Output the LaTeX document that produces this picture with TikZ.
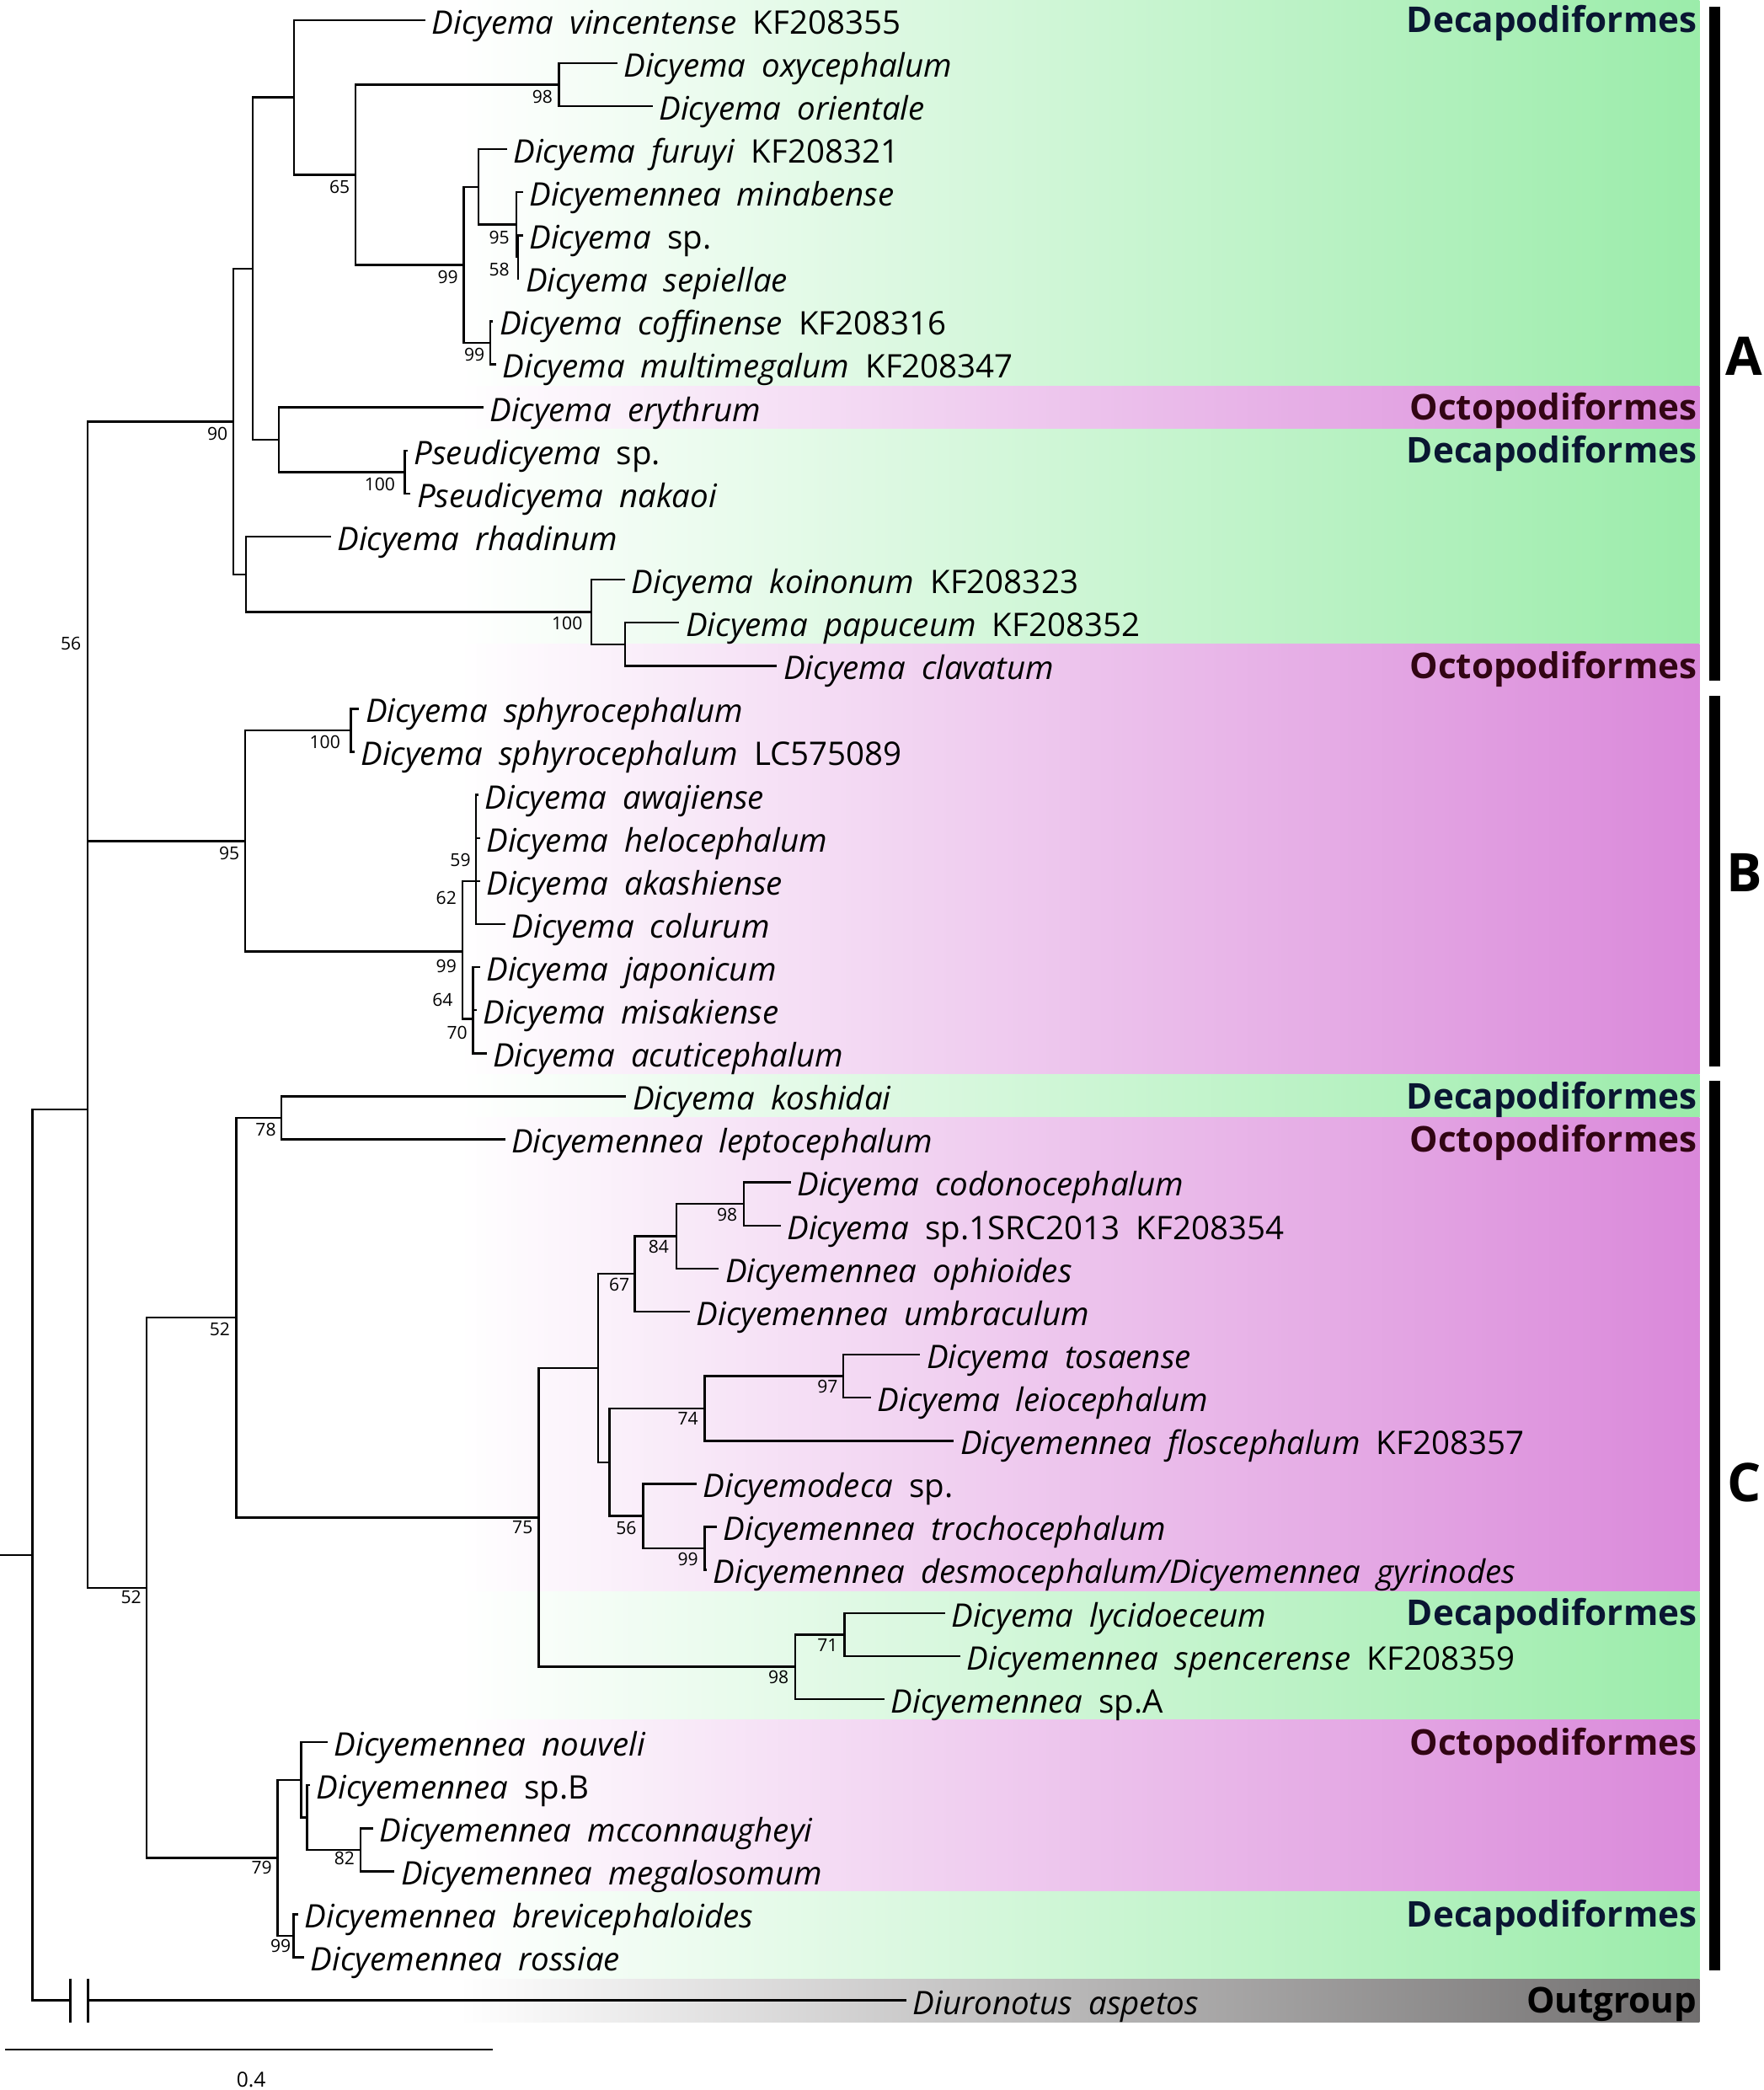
\documentclass[tikz,border=0pt]{standalone}
\usepackage{fontspec}
\setmainfont{Open Sans}
\newfontfamily\taxafont[WordSpace=1.9]{Open Sans}
\usepackage{tikz}
\usetikzlibrary{positioning}
\definecolor{decapod}{RGB}{155,236,170}
\definecolor{octopod}{RGB}{218,136,218}
\definecolor{outgr}{RGB}{112,110,110}
\definecolor{decapodtxt}{RGB}{10,22,50}
\definecolor{octopodtxt}{RGB}{50,5,20}
\tikzset{
  branch/.style={line width=0.7pt},
  taxon/.style={anchor=west,inner xsep=2pt,inner ysep=0pt,text height=9.3pt,text depth=0pt,
    font=\taxafont\fontsize{10.95}{12}\selectfont\itshape},
  support/.style={inner sep=0pt,font=\fontsize{6}{7}\selectfont},
  group/.style={anchor=east,inner sep=0pt,text height=8.6pt,text depth=0pt,
    font=\fontsize{12}{14}\selectfont\bfseries},
  cladebar/.style={line width=3.8pt},
  cladelab/.style={inner sep=0pt,font=\fontsize{18}{20}\selectfont\bfseries},
}

\begin{document}
\begin{tikzpicture}[x=0.158277mm,y=-0.158277mm]
			\useasboundingbox (0,0) rectangle (1323,1568);
			% host bands
			\foreach \ytop/\ybot/\col in {0/289.6/decapod,289.6/321.9/octopod,321.9/483.4/decapod,
				483.4/806.4/octopod,806.4/838.6/decapod,838.6/1194/octopod,1194/1290.1/decapod,
				1290.1/1419.3/octopod,1419.3/1484.7/decapod,1484.7/1517/outgr}
				\shade[left color=white,right color=\col] (345,\ytop) rectangle (1275,\ybot);
			% host labels
			\node[group,text=decapodtxt] (dec1) at (1273.5,15) {Decapodiformes};
			\node[group,text=octopodtxt] (oct1) at (1273.5,305.7) {Octopodiformes};
			\node[group,text=decapodtxt] (dec2) at (1273.5,338) {Decapodiformes};
			\node[group,text=octopodtxt] (oct2) at (1273.5,499.5) {Octopodiformes};
			\node[group,text=decapodtxt] (dec3) at (1273.5,822.5) {Decapodiformes};
			\node[group,text=octopodtxt] (oct3) at (1273.5,854.8) {Octopodiformes};
			\node[group,text=decapodtxt] (dec4) at (1273.5,1210.1) {Decapodiformes};
			\node[group,text=octopodtxt] (oct4) at (1273.5,1307) {Octopodiformes};
			\node[group,text=decapodtxt] (dec5) at (1273.5,1436.2) {Decapodiformes};
			\node[group,text=black] (outg) at (1273.5,1500.8) {Outgroup};
			% clade bars
			\draw[cladebar] (1286.5,5.1) -- (1286.5,510.4);
			\draw[cladebar] (1286.5,522.1) -- (1286.5,800.1);
			\draw[cladebar] (1286.5,810.9) -- (1286.5,1478.4);
			\node[cladelab] (cladeA) at (1308.5,267) {A};
			\node[cladelab] (cladeB) at (1308.5,655) {B};
			\node[cladelab] (cladeC) at (1308.5,1112) {C};

			% clade A taxa
			\node[taxon] (t1) at (319.1,15) {Dicyema vincentense \textup{KF208355}};
			\node[taxon] (t2) at (463.1,47.3) {Dicyema oxycephalum};
			\node[taxon] (t3) at (489.7,79.6) {Dicyema orientale};
			\node[taxon] (t4) at (380.3,111.9) {Dicyema furuyi \textup{KF208321}};
			\node[taxon] (t5) at (392.2,144.2) {Dicyemennea minabense};
			\node[taxon] (t6) at (392.2,176.5) {Dicyema \textup{sp.}};
			\node[taxon] (t7) at (389.5,208.8) {Dicyema sepiellae};
			\node[taxon] (t8) at (370,241.1) {Dicyema coffinense \textup{KF208316}};
			\node[taxon] (t9) at (372.3,273.4) {Dicyema multimegalum \textup{KF208347}};
			\node[taxon] (t10) at (362.5,305.7) {Dicyema erythrum};
			\node[taxon] (t11) at (305.8,338) {Pseudicyema \textup{sp.}};
			\node[taxon] (t12) at (308,370.3) {Pseudicyema nakaoi};
			\node[taxon] (t13) at (248.2,402.6) {Dicyema rhadinum};
			\node[taxon] (t14) at (468.9,434.9) {Dicyema koinonum \textup{KF208323}};
			\node[taxon] (t15) at (509.7,467.2) {Dicyema papuceum \textup{KF208352}};
			\node[taxon] (t16) at (583,499.5) {Dicyema clavatum};
			\coordinate (n98a) at (419.3,63.45);
			\coordinate (n58) at (388.7,192.65);
			\coordinate (n95a) at (387.4,168.4);
			\coordinate (nfur) at (359,140.15);
			\coordinate (n99b) at (367.9,257.25);
			\coordinate (n99a) at (347.9,198.7);
			\coordinate (n65) at (266.8,131.1);
			\coordinate (nvinc) at (220.7,73.05);
			\coordinate (n100a) at (303.6,354.15);
			\coordinate (nery) at (209.2,329.9);
			\coordinate (nA1) at (189.7,201.5);
			\coordinate (npap) at (469,483.35);
			\coordinate (n100b) at (443.6,459.1);
			\coordinate (nrhad) at (184.4,430.85);
			\coordinate (n90) at (175.1,316.2);

			% clade B taxa
			\node[taxon] (t17) at (269.5,531.8) {Dicyema sphyrocephalum};
			\node[taxon] (t18) at (265.9,564.1) {Dicyema sphyrocephalum \textup{LC575089}};
			\node[taxon] (t19) at (359,596.4) {Dicyema awajiense};
			\node[taxon] (t20) at (360,628.7) {Dicyema helocephalum};
			\node[taxon] (t21) at (360,661) {Dicyema akashiense};
			\node[taxon] (t22) at (379.3,693.3) {Dicyema colurum};
			\node[taxon] (t23) at (360,725.6) {Dicyema japonicum};
			\node[taxon] (t24) at (357.5,757.9) {Dicyema misakiense};
			\node[taxon] (t25) at (365,790.2) {Dicyema acuticephalum};
			\coordinate (n100c) at (263.3,547.95);
			\coordinate (n59) at (357,628.7);
			\coordinate (n62) at (357,661);
			\coordinate (n70) at (354.9,774);
			\coordinate (n64) at (354.9,764.5);
			\coordinate (n99c) at (346.9,713.9);
			\coordinate (n95b) at (183.9,630.9);
			\coordinate (n56a) at (65.6,473.55);

			% clade C taxa
			\node[taxon] (t26) at (469.8,822.5) {Dicyema koshidai};
			\node[taxon] (t27) at (378.9,854.8) {Dicyemennea leptocephalum};
			\node[taxon] (t28) at (593.2,887.1) {Dicyema codonocephalum};
			\node[taxon] (t29) at (585.6,919.4) {Dicyema \textup{sp.1SRC2013 KF208354}};
			\node[taxon] (t30) at (539.3,951.7) {Dicyemennea ophioides};
			\node[taxon] (t31) at (517.6,984) {Dicyemennea umbraculum};
			\node[taxon] (t32) at (690.4,1016.3) {Dicyema tosaense};
			\node[taxon] (t33) at (653.6,1048.6) {Dicyema leiocephalum};
			\node[taxon] (t34) at (715.6,1080.9) {Dicyemennea floscephalum \textup{KF208357}};
			\node[taxon] (t35) at (522.7,1113.2) {Dicyemodeca \textup{sp.}};
			\node[taxon] (t36) at (537.8,1145.5) {Dicyemennea trochocephalum};
			\node[taxon] (t37) at (530.2,1177.8) {Dicyemennea desmocephalum/Dicyemennea gyrinodes};
			\node[taxon] (t38) at (709,1210.1) {Dicyema lycidoeceum};
			\node[taxon] (t39) at (720.6,1242.4) {Dicyemennea spencerense \textup{KF208359}};
			\node[taxon] (t40) at (663.7,1274.7) {Dicyemennea \textup{sp.A}};
			\node[taxon] (t41) at (246,1307) {Dicyemennea nouveli};
			\node[taxon] (t42) at (232.7,1339.3) {Dicyemennea \textup{sp.B}};
			\node[taxon] (t43) at (280.1,1371.6) {Dicyemennea mcconnaugheyi};
			\node[taxon] (t44) at (296,1403.9) {Dicyemennea megalosomum};
			\node[taxon] (t45) at (223.8,1436.2) {Dicyemennea brevicephaloides};
			\node[taxon] (t46) at (228.2,1468.5) {Dicyemennea rossiae};
			\coordinate (n78) at (211,838.65);
			\coordinate (n98c) at (557.9,903.25);
			\coordinate (n84) at (507.5,927.5);
			\coordinate (n67) at (476.3,955.7);
			\coordinate (n97) at (632.5,1032.45);
			\coordinate (n74) at (528.7,1056.7);
			\coordinate (n99e) at (528.7,1161.65);
			\coordinate (n56c) at (482.4,1137.4);
			\coordinate (nCb) at (457.2,1097);
			\coordinate (nCa) at (448.6,1026.4);
			\coordinate (n71) at (633.5,1226.25);
			\coordinate (n98d) at (596.7,1250.5);
			\coordinate (n75) at (404.2,1138.5);
			\coordinate (n52b) at (177.3,988.6);
			\coordinate (n82) at (270.4,1387.75);
			\coordinate (nspB) at (230.5,1363.5);
			\coordinate (nnouv) at (226,1335.25);
			\coordinate (n99d) at (220.3,1452.35);
			\coordinate (n79) at (208.3,1393.8);
			\coordinate (n52a) at (109.9,1191.2);
			\coordinate (nIn) at (65.6,832.4);

			% root and outgroup
			\node[taxon] (tOut) at (680,1500.8) {Diuronotus aspetos};
			\coordinate (root) at (24.4,1166.6);
			\coordinate (stub) at (0,1166.6);
			\coordinate (brkL) at (52.7,1500.8);
			\coordinate (brkR) at (66,1500.8);

			% branches
			\foreach \p/\c in {nvinc/t1,n98a/t2,n98a/t3,nfur/t4,n95a/t5,n58/t6,n58/t7,n99b/t8,n99b/t9,
				nery/t10,n100a/t11,n100a/t12,nrhad/t13,n100b/t14,npap/t15,npap/t16,
				n95a/n58,nfur/n95a,n99a/nfur,n99a/n99b,n65/n98a,n65/n99a,nvinc/n65,nery/n100a,
				nA1/nvinc,nA1/nery,n100b/npap,nrhad/n100b,n90/nA1,n90/nrhad}
				\draw[branch] (\p) |- (\c);
			\foreach \p/\c in {n100c/t17,n100c/t18,n59/t19,n59/t20,n59/t21,n62/t22,n64/t23,n70/t24,n70/t25,
				n62/n59,n64/n70,n99c/n62,n99c/n64,n95b/n100c,n95b/n99c,n56a/n90,n56a/n95b}
				\draw[branch] (\p) |- (\c);
			\foreach \p/\c in {n78/t26,n78/t27,n98c/t28,n98c/t29,n84/t30,n67/t31,n97/t32,n97/t33,n74/t34,
				n56c/t35,n99e/t36,n99e/t37,n71/t38,n71/t39,n98d/t40,nnouv/t41,nspB/t42,n82/t43,n82/t44,
				n99d/t45,n99d/t46,n84/n98c,n67/n84,n74/n97,n56c/n99e,nCb/n74,nCb/n56c,nCa/n67,nCa/nCb,
				n98d/n71,n75/nCa,n75/n98d,n52b/n78,n52b/n75,nspB/n82,nnouv/nspB,n79/nnouv,n79/n99d,
				n52a/n52b,n52a/n79,nIn/n56a,nIn/n52a,root/nIn}
				\draw[branch] (\p) |- (\c);
			\draw[branch] (stub) -- (root);
			\draw[branch] (root) |- (brkL);
			\draw[branch] (brkR) -- (tOut);
			\draw[branch] (52.7,1484.3) -- (52.7,1517.3);
			\draw[branch] (66,1484.3) -- (66,1517.3);

			% support values
			\foreach \x/\y/\v in {406.9/72.7/98,254.8/140.4/65,374.5/178.4/95,374.5/202.2/58,336/208.2/99,
				355.9/266/99,163.1/325.4/90,285/363.4/100,425.5/467.5/100,53.2/483/56,
				243.8/556.6/100,172/640.2/95,345.4/645.5/59,334.8/673.5/62,334.8/725/99,332/750/64,343/775/70,
				199.4/847.4/78,164.9/997/52,545.5/911.5/98,494.2/935.5/84,464.6/963.5/67,620.9/1040.4/97,
				516.1/1064.4/74,392/1146/75,469.8/1146.2/56,516.1/1169.7/99,620.9/1234.5/71,584.1/1258.5/98,
				98.4/1198.5/52,196.3/1401.4/79,258.4/1394.3/82,210.5/1460/99}
				\node[support] at (\x,\y) {\v};

			% scale bar
			\draw[branch] (3.9,1537.8) coordinate (sb0) -- (369.5,1537.8) coordinate (sb1);
			\node[font=\fontsize{7}{8}\selectfont] (sblab) at (188.4,1560) {0.4};
		\end{tikzpicture}
\end{document}
